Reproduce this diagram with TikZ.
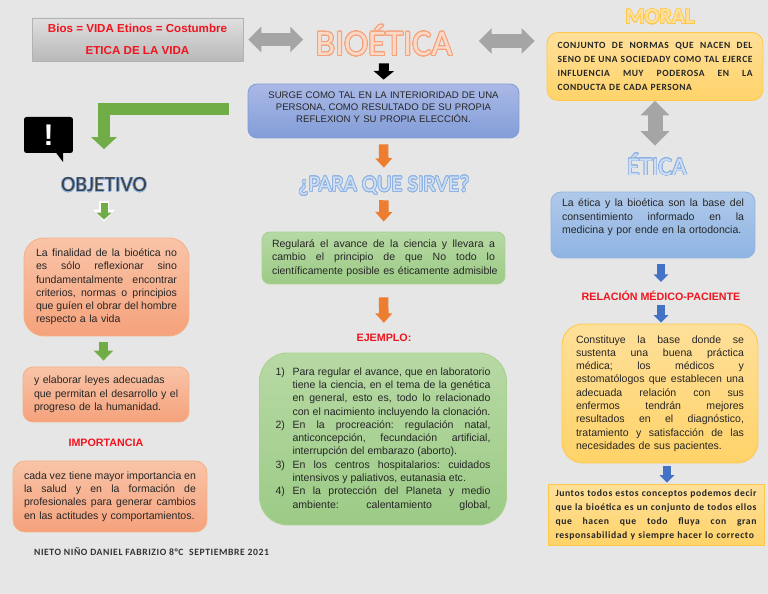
\documentclass[tikz,border=0pt]{standalone}
\usepackage{fontspec}
\usepackage{xcolor}
\usepackage{contour}
\setmainfont{Liberation Sans}
\newfontfamily\calibri{Carlito}
\newfontfamily\calibriesp[LetterSpace=6]{Carlito}
\usetikzlibrary{arrows.meta}
\contournumber{32}
\definecolor{fondo}{HTML}{E6E6E6}
\definecolor{rojo}{HTML}{F0141E}
\definecolor{grisflecha}{HTML}{A5A5A5}
\definecolor{verdeflecha}{HTML}{70AD47}
\definecolor{naranjaflecha}{HTML}{ED7D31}
\definecolor{azulflecha}{HTML}{4472C4}
\definecolor{salmonA}{HTML}{F9C4A8}
\definecolor{salmonB}{HTML}{F5A27C}
\definecolor{salmonC}{HTML}{F4B183}
\definecolor{verdeA}{HTML}{B7D9A4}
\definecolor{verdeB}{HTML}{9CCB86}
\definecolor{verdeC}{HTML}{A9D18E}
\definecolor{amarilloA}{HTML}{FFE09A}
\definecolor{amarilloB}{HTML}{FFD369}
\definecolor{amarilloC}{HTML}{FFC84A}
\definecolor{azulA}{HTML}{B0C9EA}
\definecolor{azulB}{HTML}{8FB4E3}
\definecolor{azulC}{HTML}{8FB4E3}
\definecolor{lilaA}{HTML}{AAB9E6}
\definecolor{lilaB}{HTML}{829DD8}
\newcommand{\lineaj}[1]{\hbox to \hsize{\frenchspacing\spaceskip=0pt\xspaceskip=0pt #1}}
\newcommand{\linea}[1]{\hbox{#1}}
\newcommand{\punto}[2]{\hbox to \hsize{\frenchspacing\spaceskip=0pt\xspaceskip=0pt \hbox to 0.34cm{#1\hfil}#2}}
\tikzset{
  caja/.style={inner sep=0pt, text=black!85},
  cuerpo/.style={font=\fontsize{6}{7.55}\selectfont},
  calib/.style={font=\calibriesp\bfseries\fontsize{5.4}{7.85}\selectfont},
  rojotxt/.style={inner sep=0pt, text=rojo, font=\bfseries\fontsize{6.1}{7.5}\selectfont},
  salmon/.style={caja, cuerpo, top color=salmonA, bottom color=salmonB, draw=salmonC, line width=0.5pt},
  verdecaja/.style={caja, cuerpo, top color=verdeA, bottom color=verdeB, draw=verdeC, line width=0.5pt},
  amarilla/.style={caja, top color=amarilloA, bottom color=amarilloB, draw=amarilloC, line width=0.5pt},
  flecha negra/.style={line width=0.2cm, black, -{Triangle[length=0.17cm,width=0.4cm]}},
  flecha naranja/.style={line width=0.19cm, naranjaflecha, -{Triangle[length=0.19cm,width=0.33cm]}},
  flecha azul/.style={line width=0.15cm, azulflecha, -{Triangle[length=0.15cm,width=0.29cm]}},
  flecha verde/.style={line width=0.18cm, verdeflecha, -{Triangle[length=0.2cm,width=0.38cm]}},
  flecha doble/.style={line width=0.27cm, grisflecha, {Triangle[length=0.26cm,width=0.5cm]}-{Triangle[length=0.26cm,width=0.5cm]}},
}

\begin{document}
\begin{tikzpicture}[x=0.02cm, y=-0.02cm]
  \fill[fondo] (0,0) rectangle (768,594);
  \useasboundingbox (0,0) rectangle (768,594);

  % --- column heads ---
  \node[inner sep=0pt, minimum width=2.68cm, minimum height=0.5cm, font=\calibri\fontsize{20.5}{22}\selectfont] (bio) at (384,41)
       {\contourlength{0.45pt}\contour{salmonB}{\textcolor{salmonA!65!white}{BIOÉTICA}}};
  \node[inner sep=0pt, minimum height=0.3cm, font=\calibri\bfseries\fontsize{12.5}{14}\selectfont] (moral) at (660,17)
       {\contourlength{0.3pt}\contour{amarilloC}{\textcolor{amarilloA}{MORAL}}};
  \node[inner sep=0pt, minimum height=0.34cm, font=\calibri\fontsize{14.5}{16}\selectfont] (etica) at (657,165)
       {\contourlength{0.4pt}\contour{azulB}{\textcolor{azulA!60!white}{ÉTICA}}};
  \node[inner sep=0pt, minimum height=0.3cm, font=\calibri\fontsize{12.8}{16}\selectfont] (para) at (384,186)
       {\contourlength{0.4pt}\contour{azulB}{\textcolor{azulA!60!white}{¿PARA QUE SIRVE?}}};
  \node[inner sep=0pt, minimum height=0.3cm, font=\calibri\fontsize{12.3}{16}\selectfont] (objetivo) at (104,185)
       {\contourlength{0.3pt}\contour{azulB}{\textcolor{black!75}{OBJETIVO}}};

  % --- top row ---
  \node[caja, rojotxt, align=center, minimum width=4.22cm, minimum height=0.86cm, top color=gray!25, bottom color=gray!55, draw=gray!60,
        font=\bfseries\fontsize{6.6}{12.7}\selectfont] (raiz) at (137.5,39.5)
       {Bios = VIDA Etinos = Costumbre\\ETICA DE LA VIDA};
  \node[caja, align=center, text width=5.2cm, minimum width=5.42cm, minimum height=1.08cm, rounded corners=0.18cm, top color=lilaA, bottom color=lilaB,
        draw=lilaB, line width=0.5pt, font=\fontsize{5.45}{7}\selectfont] (surge) at (383.5,111)
       {SURGE COMO TAL EN LA INTERIORIDAD DE UNA\\PERSONA, COMO RESULTADO DE SU PROPIA\\REFLEXION Y SU PROPIA ELECCIÓN.\\[-0.1cm]\mbox{}};
  \node[caja, amarilla, calib, text width=3.9cm, minimum width=4.32cm, minimum height=1.36cm, rounded corners=0.22cm] (moralcaja) at (655,66.5) {%
    \lineaj{CONJUNTO DE NORMAS QUE NACEN DEL}
    \lineaj{SENO DE UNA SOCIEDADY COMO TAL EJERCE}
    \lineaj{INFLUENCIA MUY PODEROSA EN LA}
    \linea{CONDUCTA DE CADA PERSONA}};

  % --- left column ---
  \node[fill=black, rounded corners=0.05cm, minimum width=0.98cm, minimum height=0.72cm, inner sep=0pt, text=white,
        font=\bfseries\fontsize{17}{18}\selectfont] (aviso) at (48.5,135) {!};
  \fill[black] (54,150) -- (63,162) -- (63,150) -- cycle;
  \node[salmon, text width=2.82cm, minimum width=3.3cm, minimum height=1.96cm, rounded corners=0.4cm] (caja1) at (106.5,287) {%
    \lineaj{La finalidad de la bioética no}
    \lineaj{es sólo reflexionar sino}
    \lineaj{fundamentalmente encontrar}
    \lineaj{criterios, normas o principios}
    \lineaj{que guíen el obrar del hombre}
    \linea{respecto a la vida}};
  \node[salmon, text width=2.88cm, minimum width=3.32cm, minimum height=1.1cm, rounded corners=0.2cm] (caja2) at (106,394.5) {%
    \linea{y elaborar leyes adecuadas}
    \linea{que permitan el desarrollo y el}
    \linea{progreso de la humanidad.}};
  \node[rojotxt] (importancia) at (106,443) {IMPORTANCIA};
  \node[salmon, text width=3.44cm, minimum width=3.88cm, minimum height=1.42cm, rounded corners=0.24cm] (caja3) at (110,496.5) {%
    \lineaj{cada vez tiene mayor importancia en}
    \lineaj{la salud y en la formación de}
    \lineaj{profesionales para generar cambios}
    \linea{en las actitudes y comportamientos.}};
  \node[inner sep=0pt, text=black!80, font=\calibriesp\bfseries\fontsize{5.5}{7}\selectfont] (autor) at (151.5,552)
       {NIETO NIÑO DANIEL FABRIZIO 8°C\ \ SEPTIEMBRE 2021};

  % --- middle column ---
  \node[verdecaja, text width=4.46cm, minimum width=4.86cm, minimum height=1.04cm, rounded corners=0.16cm] (verde) at (383.5,258) {%
    \lineaj{Regulará el avance de la ciencia y llevara a}
    \lineaj{cambio el principio de que No todo lo}
    \linea{científicamente posible es éticamente admisible}};
  \node[rojotxt] (ejemplo) at (384,338) {EJEMPLO:};
  \node[verdecaja, text width=4.3cm, minimum width=4.94cm, minimum height=3.44cm, rounded corners=0.56cm] (lista) at (383,439) {%
    \punto{1)}{Para regular el avance, que en laboratorio}
    \punto{}{tiene la ciencia, en el tema de la genética}
    \punto{}{en general, esto es, todo lo relacionado}
    \punto{}{con el nacimiento incluyendo la clonación.}
    \punto{2)}{En la procreación: regulación natal,}
    \punto{}{anticoncepción, fecundación artificial,}
    \punto{}{interrupción del embarazo (aborto).\hfil}
    \punto{3)}{En los centros hospitalarios: cuidados}
    \punto{}{intensivos y paliativos, eutanasia etc.\hfil}
    \punto{4)}{En la protección del Planeta y medio}
    \punto{}{ambiente: calentamiento global,}};

  % --- right column ---
  \node[caja, cuerpo, text width=3.64cm, minimum width=4.08cm, minimum height=1.32cm, rounded corners=0.2cm, top color=azulA, bottom color=azulB,
        draw=azulC, line width=0.5pt] (azul) at (653,225) {%
    \lineaj{La ética y la bioética son la base del}
    \lineaj{consentimiento informado en la}
    \linea{medicina y por ende en la ortodoncia.}
    \linea{\strut}};
  \node[rojotxt] (relacion) at (661,296) {RELACIÓN MÉDICO-PACIENTE};
  \node[caja, amarilla, cuerpo, text width=3.36cm, minimum width=3.92cm, minimum height=2.78cm, rounded corners=0.42cm] (amarillo) at (660,393.5) {%
    \lineaj{Constituye la base donde se}
    \lineaj{sustenta una buena práctica}
    \lineaj{médica; los médicos y}
    \lineaj{estomatólogos que establecen una}
    \lineaj{adecuada relación con sus}
    \lineaj{enfermos tendrán mejores}
    \lineaj{resultados en el diagnóstico,}
    \lineaj{tratamiento y satisfacción de las}
    \linea{necesidades de sus pacientes.}};
  \node[caja, text width=4.02cm, minimum width=4.32cm, minimum height=1.22cm, top color=amarilloA, bottom color=amarilloB, draw=amarilloC, line width=0.5pt,
        font=\calibriesp\bfseries\fontsize{5.5}{7.95}\selectfont] (final) at (656,514.5) {%
    \lineaj{Juntos todos estos conceptos podemos decir}
    \lineaj{que la bioética es un conjunto de todos ellos}
    \lineaj{que hacen que todo fluya con gran}
    \linea{responsabilidad y siempre hacer lo correcto}};

  % --- block arrows ---
  \draw[flecha doble, shorten <=0.1cm, shorten >=0.24cm] (raiz.east) -- (raiz.east -| bio.west);
  \draw[flecha doble, shorten <=0.52cm, shorten >=0.24cm] (bio.east) -- (bio.east -| moralcaja.west);
  \draw[flecha doble, line width=0.3cm, {Triangle[length=0.29cm,width=0.56cm]}-{Triangle[length=0.29cm,width=0.56cm]}, shorten >=0.16cm] (moralcaja.south) -- (moralcaja.south |- etica.north);
  \draw[flecha negra, shorten <=0.13cm, shorten >=0.08cm] (bio.south) -- (surge.north);
  \draw[flecha naranja, shorten <=0.12cm, shorten >=0.16cm] (surge.south) -- (para.north);
  \draw[flecha naranja, shorten <=0.08cm, shorten >=0.2cm] (para.south) -- (verde.north);
  \draw[flecha naranja, shorten <=0.26cm, shorten >=0.22cm] (verde.south) -- (ejemplo.north);
  \draw[flecha verde, line width=0.24cm, -{Triangle[length=0.24cm,width=0.5cm]}, shorten <=0.38cm, shorten >=0.56cm]
       ([yshift=0.04cm]surge.west) -| (objetivo.north);
  \draw[white, line width=0.2cm, -{Triangle[length=0.24cm,width=0.42cm]}, shorten <=0.16cm, shorten >=0.32cm] (objetivo.south) -- (objetivo.south |- caja1.north);
  \draw[flecha verde, line width=0.14cm, -{Triangle[length=0.14cm,width=0.3cm]}, shorten <=0.2cm, shorten >=0.36cm] (objetivo.south) -- (objetivo.south |- caja1.north);
  \draw[flecha verde, shorten <=0.12cm, shorten >=0.12cm] ([xshift=-0.06cm]caja1.south) -- ([xshift=-0.06cm]caja1.south |- caja2.north);
  \draw[flecha azul, shorten <=0.12cm, shorten >=0.18cm] (relacion.north |- azul.south) -- (relacion.north);
  \draw[flecha azul, shorten <=0.08cm, shorten >=0.02cm] (relacion.south) -- (relacion.south |- amarillo.north);
  \draw[flecha azul, shorten <=0.06cm, shorten >=0.02cm] ([xshift=0.14cm]amarillo.south) -- ([xshift=0.14cm]amarillo.south |- final.north);
\end{tikzpicture}
\end{document}
